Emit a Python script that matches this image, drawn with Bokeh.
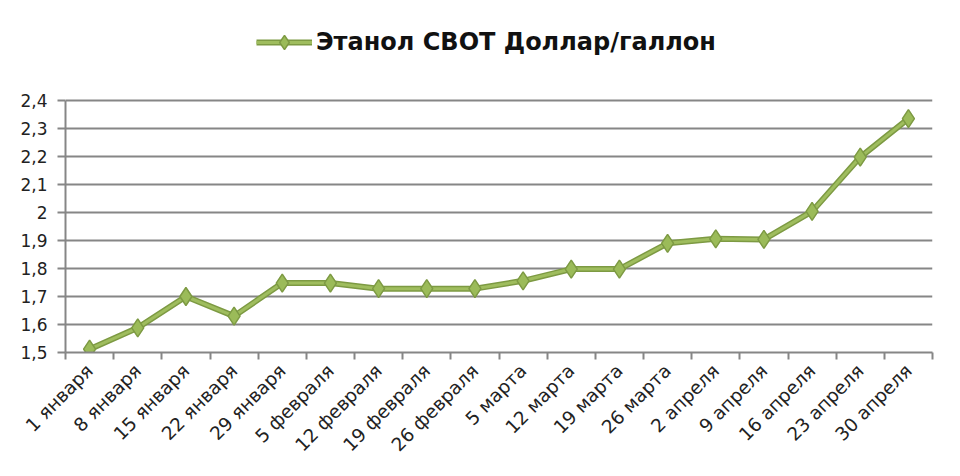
from bokeh.plotting import figure
from bokeh.models import FixedTicker, Legend, LegendItem, ColumnDataSource, Range1d
from bokeh.embed import file_html
from bokeh.resources import INLINE
import math

dates = ["1 января", "8 января", "15 января", "22 января", "29 января",
         "5 февраля", "12 февраля", "19 февраля", "26 февраля",
         "5 марта", "12 марта", "19 марта", "26 марта",
         "2 апреля", "9 апреля", "16 апреля", "23 апреля", "30 апреля"]
prices = [1.512, 1.588, 1.700, 1.630, 1.748, 1.748, 1.728, 1.728, 1.728,
          1.756, 1.798, 1.798, 1.890, 1.906, 1.904, 2.004, 2.198, 2.335]
y_ticks = [1.5, 1.6, 1.7, 1.8, 1.9, 2.0, 2.1, 2.2, 2.3, 2.4]
y_labels = ["1,5", "1,6", "1,7", "1,8", "1,9", "2", "2,1", "2,2", "2,3", "2,4"]
series_name = "Этанол CBOT Доллар/галлон"

n = len(dates)
xs = [i + 0.5 for i in range(n)]
src = ColumnDataSource(dict(x=xs, y=prices))

W, H = 952, 468
TOP_PAD = 100          # pixels between canvas top and the 2,4 gridline
PLOT_H = 252           # pixels between 2,4 and 1,5 gridlines
y_lo, y_hi = y_ticks[0], y_ticks[-1]
y_end = y_hi + (y_hi - y_lo) * TOP_PAD / PLOT_H

p = figure(width=W, height=H, output_backend="svg", toolbar_location=None,
           x_range=Range1d(0, n), y_range=Range1d(y_lo, y_end),
           min_border_left=65, min_border_right=20, min_border_top=0,
           min_border_bottom=H - TOP_PAD - PLOT_H)
p.outline_line_color = None
p.background_fill_color = "white"
p.border_fill_color = "white"

# axes
p.xaxis.ticker = FixedTicker(ticks=xs, minor_ticks=list(range(n + 1)))
p.xaxis.major_label_overrides = {x: d for x, d in zip(xs, dates)}
p.xaxis.major_label_orientation = math.pi / 4
p.xaxis.major_tick_out = 0
p.xaxis.major_tick_in = 0
p.xaxis.minor_tick_out = 7
p.xaxis.minor_tick_in = 0
p.xaxis.minor_tick_line_color = "#868686"
p.xaxis.minor_tick_line_width = 2
p.xaxis.axis_line_color = "#868686"
p.xaxis.axis_line_width = 2
p.xaxis.major_label_text_font = "DejaVu Sans"
p.xaxis.major_label_text_font_size = "18.5px"
p.xaxis.major_label_text_color = "#222222"
p.xaxis.major_label_standoff = 8

p.yaxis.ticker = FixedTicker(ticks=y_ticks)
p.yaxis.bounds = (y_lo, y_hi)
p.yaxis.major_label_overrides = {t: l for t, l in zip(y_ticks, y_labels)}
p.yaxis.major_tick_out = 8
p.yaxis.major_tick_in = 0
p.yaxis.minor_tick_line_color = None
p.yaxis.major_tick_line_color = "#868686"
p.yaxis.major_tick_line_width = 2
p.yaxis.axis_line_color = "#868686"
p.yaxis.axis_line_width = 2
p.yaxis.major_label_text_font = "DejaVu Sans"
p.yaxis.major_label_text_font_size = "17px"
p.yaxis.major_label_text_color = "#222222"
p.yaxis.major_label_standoff = 10

p.xgrid.grid_line_color = None
p.ygrid.ticker = FixedTicker(ticks=y_ticks)
p.ygrid.grid_line_color = "#868686"
p.ygrid.grid_line_width = 2

# series
outer = p.line("x", "y", source=src, line_color="#7d9a43", line_width=6)
inner = p.line("x", "y", source=src, line_color="#9fbd5e", line_width=3)
marks = p.scatter("x", "y", source=src, marker="diamond", size=18,
                  fill_color="#9bbb59", line_color="#7d9a43", line_width=1.5)

legend = Legend(items=[LegendItem(label=series_name, renderers=[outer, inner, marks])],
                location=(191, PLOT_H + TOP_PAD - 60), orientation="horizontal",
                label_text_font="DejaVu Sans", label_text_font_style="bold",
                label_text_font_size="24px", label_text_color="#111111",
                label_text_baseline="middle",
                glyph_width=56, glyph_height=36, label_standoff=4,
                border_line_color=None, background_fill_alpha=0,
                padding=0, margin=0)
p.add_layout(legend, "center")

open("out.html", "w").write(file_html(p, INLINE))
